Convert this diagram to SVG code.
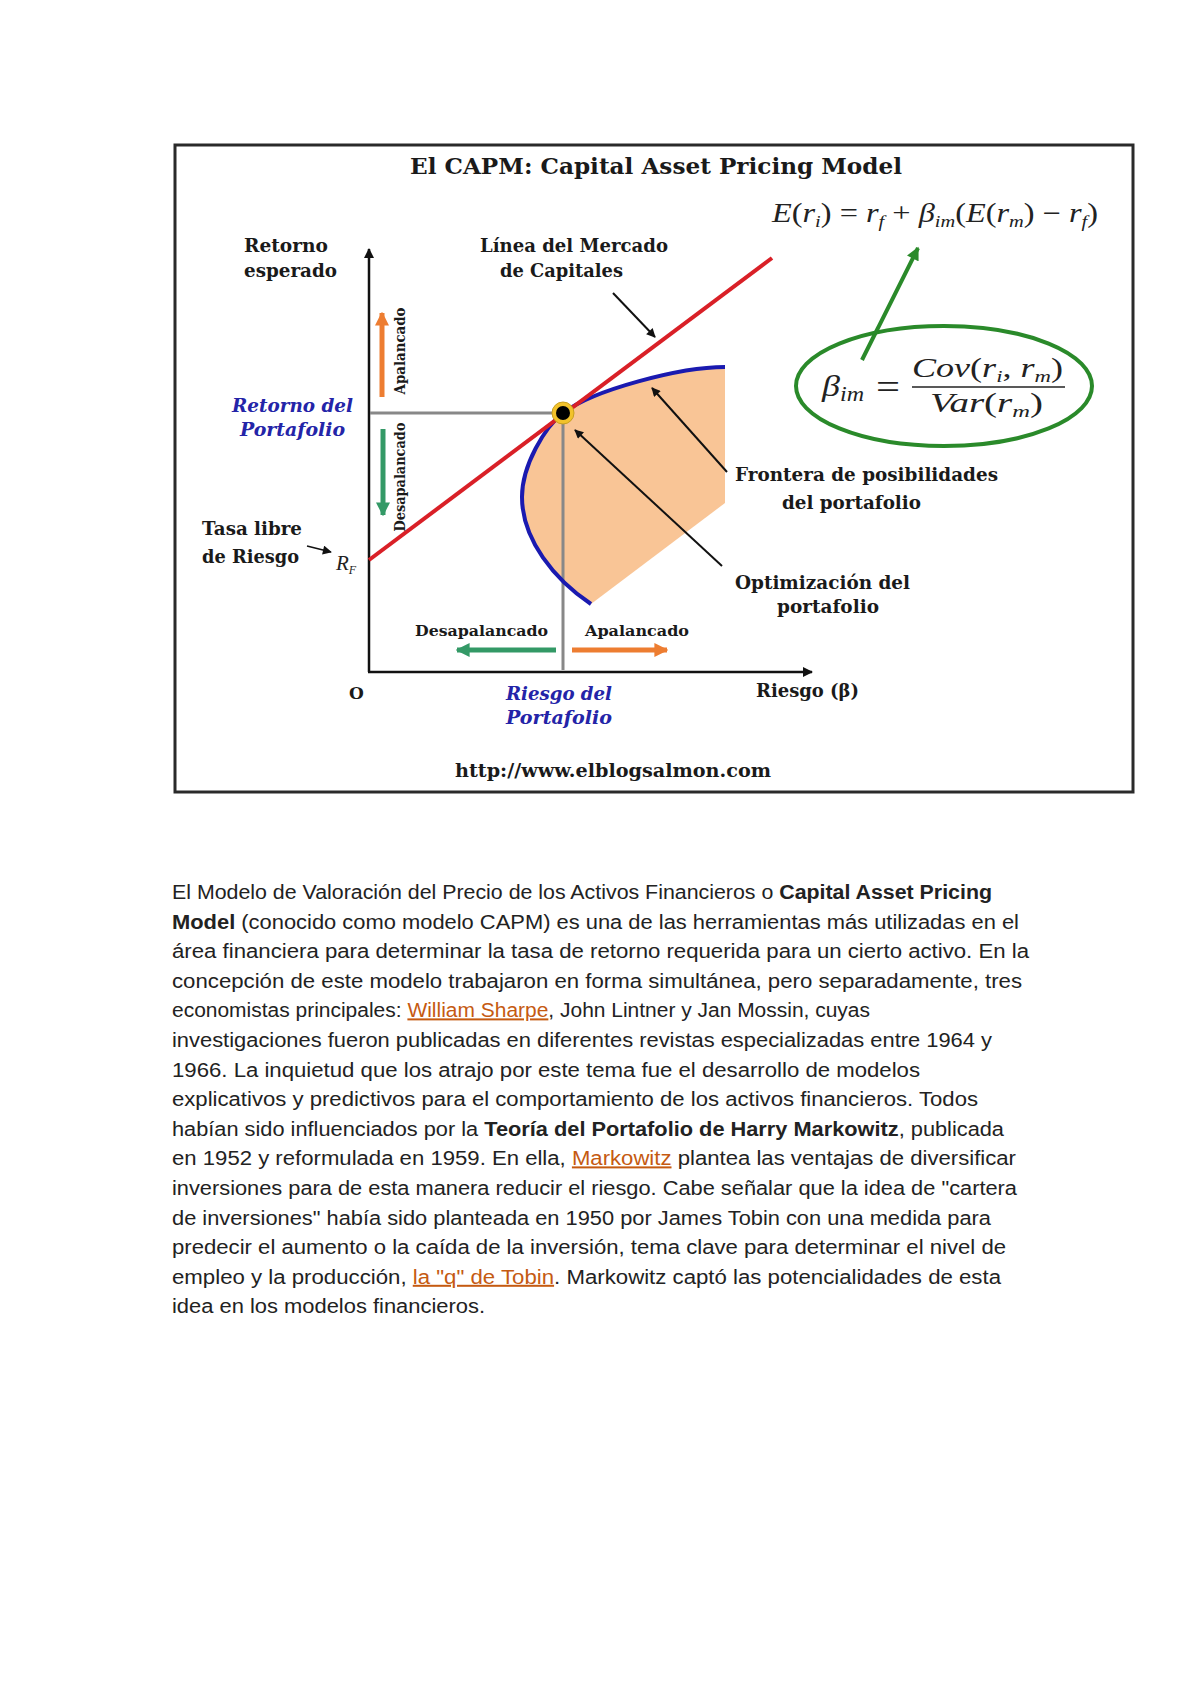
<svg xmlns="http://www.w3.org/2000/svg" width="1200" height="1698" viewBox="0 0 1200 1698">
<defs>
<style>
.lbl{font-family:"DejaVu Serif","Liberation Serif",serif;font-weight:bold;fill:#1a1a1a}
.blue{font-family:"DejaVu Serif","Liberation Serif",serif;font-weight:bold;font-style:italic;fill:#2424a8}
.math{font-family:"Liberation Serif","DejaVu Serif",serif;fill:#222}
.mi{font-style:italic}
.body{font-family:"Liberation Sans",Arial,sans-serif;font-size:20px;fill:#222}
.b{font-weight:bold}
.lnk{fill:#c55a11;text-decoration:underline}
.thin{stroke:#111;stroke-width:2;fill:none}
</style>
<marker id="ahk" viewBox="0 0 10 10" refX="9" refY="5" markerWidth="10" markerHeight="9" markerUnits="userSpaceOnUse" orient="auto"><path d="M0,0 L10,5 L0,10 z" fill="#111"/></marker>
<marker id="ahax" viewBox="0 0 10 10" refX="9" refY="5" markerWidth="11" markerHeight="10" markerUnits="userSpaceOnUse" orient="auto"><path d="M0,0 L10,5 L0,10 z" fill="#111"/></marker>
<marker id="aho" viewBox="0 0 10 10" refX="9" refY="5" markerWidth="14" markerHeight="14" markerUnits="userSpaceOnUse" orient="auto"><path d="M0,0 L10,5 L0,10 z" fill="#ed7d31"/></marker>
<marker id="aht" viewBox="0 0 10 10" refX="9" refY="5" markerWidth="14" markerHeight="14" markerUnits="userSpaceOnUse" orient="auto"><path d="M0,0 L10,5 L0,10 z" fill="#339966"/></marker>
<marker id="ahg" viewBox="0 0 10 10" refX="9" refY="5" markerWidth="14" markerHeight="13" markerUnits="userSpaceOnUse" orient="auto"><path d="M0,0 L10,5 L0,10 z" fill="#2a8a2a"/></marker>
</defs>
<rect width="1200" height="1698" fill="#ffffff"/>

<g id="frame"><rect x="175" y="145" width="958" height="647" fill="#fff" stroke="#2a2a2a" stroke-width="3"/></g>

<g id="title"><text class="lbl" x="410" y="174" font-size="23" textLength="492" lengthAdjust="spacingAndGlyphs">El CAPM: Capital Asset Pricing Model</text></g>

<g id="region">
<path d="M725,367 C680,367 593,390 563,413 C545,427 522,465 522,497 C522,540 555,580 591,604 L725,503 Z" fill="#f9c596"/>
</g>

<g id="connectors">
<line x1="369" y1="672" x2="369" y2="249" stroke="#111" stroke-width="2.5" marker-end="url(#ahax)"/>
<line x1="368" y1="672" x2="812" y2="672" stroke="#111" stroke-width="2.5" marker-end="url(#ahax)"/>
<line x1="370" y1="413" x2="563" y2="413" stroke="#888" stroke-width="3"/>
<line x1="563" y1="413" x2="563" y2="670" stroke="#888" stroke-width="3"/>
<path d="M725,367 C680,367 593,390 563,413 C545,427 522,465 522,497 C522,540 555,580 591,604" fill="none" stroke="#1a1ab0" stroke-width="4"/>
<line x1="369" y1="560" x2="772" y2="258" stroke="#d92027" stroke-width="4"/>
<line x1="382" y1="397" x2="382" y2="313" stroke="#ed7d31" stroke-width="5" marker-end="url(#aho)"/>
<line x1="383" y1="429" x2="383" y2="515" stroke="#339966" stroke-width="5" marker-end="url(#aht)"/>
<line x1="556" y1="650" x2="457" y2="650" stroke="#339966" stroke-width="5" marker-end="url(#aht)"/>
<line x1="572" y1="650" x2="667" y2="650" stroke="#ed7d31" stroke-width="5" marker-end="url(#aho)"/>
<line class="thin" x1="613" y1="293" x2="655" y2="337" marker-end="url(#ahk)"/>
<line class="thin" x1="727" y1="472" x2="652" y2="388" marker-end="url(#ahk)"/>
<line class="thin" x1="722" y1="566" x2="575" y2="430" marker-end="url(#ahk)"/>
<line x1="307" y1="546" x2="331" y2="552" stroke="#111" stroke-width="1.5" marker-end="url(#ahk)"/>
<line x1="862" y1="360" x2="918" y2="248" stroke="#2a8a2a" stroke-width="4" marker-end="url(#ahg)"/>
</g>

<g id="optimal-point">
<circle cx="563" cy="413" r="11" fill="#f2c22a" stroke="#c9a020" stroke-width="1"/>
<circle cx="563" cy="413" r="7" fill="#000"/>
</g>

<g id="label-y-axis">
<text class="lbl" x="244" y="252" font-size="18" textLength="84" lengthAdjust="spacingAndGlyphs">Retorno</text>
<text class="lbl" x="244" y="277" font-size="18" textLength="93" lengthAdjust="spacingAndGlyphs">esperado</text>
</g>
<g id="label-cml">
<text class="lbl" x="480" y="252" font-size="18" textLength="188" lengthAdjust="spacingAndGlyphs">Línea del Mercado</text>
<text class="lbl" x="500" y="277" font-size="18" textLength="123" lengthAdjust="spacingAndGlyphs">de Capitales</text>
</g>
<g id="label-retorno-portafolio">
<text class="blue" x="232" y="412" font-size="18" textLength="121" lengthAdjust="spacingAndGlyphs">Retorno del</text>
<text class="blue" x="240" y="436" font-size="18" textLength="105" lengthAdjust="spacingAndGlyphs">Portafolio</text>
</g>
<g id="label-apalancado-v">
<text class="lbl" font-size="14" text-anchor="middle" transform="translate(405,351) rotate(-90)" textLength="87" lengthAdjust="spacingAndGlyphs">Apalancado</text>
</g>
<g id="label-desapalancado-v">
<text class="lbl" font-size="14" text-anchor="middle" transform="translate(405,477) rotate(-90)" textLength="109" lengthAdjust="spacingAndGlyphs">Desapalancado</text>
</g>
<g id="label-tasa">
<text class="lbl" x="202" y="535" font-size="18" textLength="100" lengthAdjust="spacingAndGlyphs">Tasa libre</text>
<text class="lbl" x="202" y="563" font-size="18" textLength="97" lengthAdjust="spacingAndGlyphs">de Riesgo</text>
</g>
<g id="label-rf">
<text class="math" x="336" y="570" font-size="21"><tspan class="mi">R</tspan><tspan class="mi" font-size="12" dy="4">F</tspan></text>
</g>
<g id="label-desapalancado-h">
<text class="lbl" x="415" y="636" font-size="15" textLength="133" lengthAdjust="spacingAndGlyphs">Desapalancado</text>
</g>
<g id="label-apalancado-h">
<text class="lbl" x="585" y="636" font-size="15" textLength="104" lengthAdjust="spacingAndGlyphs">Apalancado</text>
</g>
<g id="label-origin">
<text class="lbl" x="349" y="699" font-size="17">O</text>
</g>
<g id="label-riesgo-portafolio">
<text class="blue" x="506" y="700" font-size="18" textLength="106" lengthAdjust="spacingAndGlyphs">Riesgo del</text>
<text class="blue" x="506" y="724" font-size="18" textLength="106" lengthAdjust="spacingAndGlyphs">Portafolio</text>
</g>
<g id="label-x-axis">
<text class="lbl" x="756" y="697" font-size="18" textLength="103" lengthAdjust="spacingAndGlyphs">Riesgo (β)</text>
</g>
<g id="label-frontera">
<text class="lbl" x="735" y="481" font-size="18" textLength="263" lengthAdjust="spacingAndGlyphs">Frontera de posibilidades</text>
<text class="lbl" x="782" y="509" font-size="18" textLength="139" lengthAdjust="spacingAndGlyphs">del portafolio</text>
</g>
<g id="label-optimizacion">
<text class="lbl" x="735" y="589" font-size="18" textLength="175" lengthAdjust="spacingAndGlyphs">Optimización del</text>
<text class="lbl" x="777" y="613" font-size="18" textLength="102" lengthAdjust="spacingAndGlyphs">portafolio</text>
</g>
<g id="label-url">
<text class="lbl" x="455" y="777" font-size="18" textLength="316" lengthAdjust="spacingAndGlyphs">http://www.elblogsalmon.com</text>
</g>

<g id="formula-capm">
<text class="math" x="772" y="222" font-size="27" textLength="326" lengthAdjust="spacingAndGlyphs"><tspan class="mi">E</tspan>(<tspan class="mi">r</tspan><tspan class="mi" font-size="17" dy="5">i</tspan><tspan dy="-5">) = </tspan><tspan class="mi">r</tspan><tspan class="mi" font-size="17" dy="5">f</tspan><tspan dy="-5"> + </tspan><tspan class="mi">β</tspan><tspan class="mi" font-size="17" dy="5">im</tspan><tspan dy="-5">(</tspan><tspan class="mi">E</tspan>(<tspan class="mi">r</tspan><tspan class="mi" font-size="17" dy="5">m</tspan><tspan dy="-5">) − </tspan><tspan class="mi">r</tspan><tspan class="mi" font-size="17" dy="5">f</tspan><tspan dy="-5">)</tspan></text>
</g>

<g id="beta-ellipse">
<ellipse cx="944" cy="386" rx="148" ry="60" fill="none" stroke="#2a8a2a" stroke-width="4"/>
<text class="math" x="822" y="396" font-size="30" textLength="42" lengthAdjust="spacingAndGlyphs"><tspan class="mi">β</tspan><tspan class="mi" font-size="20" dy="5">im</tspan></text>
<text class="math" x="876" y="399" font-size="36" textLength="24" lengthAdjust="spacingAndGlyphs">=</text>
<text class="math" x="912" y="377" font-size="27" textLength="151" lengthAdjust="spacingAndGlyphs"><tspan class="mi">Cov</tspan>(<tspan class="mi">r</tspan><tspan class="mi" font-size="17" dy="5">i</tspan><tspan dy="-5">, </tspan><tspan class="mi">r</tspan><tspan class="mi" font-size="17" dy="5">m</tspan><tspan dy="-5">)</tspan></text>
<line x1="912" y1="387" x2="1065" y2="387" stroke="#222" stroke-width="1.5"/>
<text class="math" x="930" y="412" font-size="27" textLength="113" lengthAdjust="spacingAndGlyphs"><tspan class="mi">Var</tspan>(<tspan class="mi">r</tspan><tspan class="mi" font-size="17" dy="5">m</tspan><tspan dy="-5">)</tspan></text>
</g>

<g id="body-text" class="body">
<text x="172" y="899" textLength="820" lengthAdjust="spacingAndGlyphs">El Modelo de Valoración del Precio de los Activos Financieros o <tspan class="b">Capital Asset Pricing</tspan></text>
<text x="172" y="928.6" textLength="847" lengthAdjust="spacingAndGlyphs"><tspan class="b">Model</tspan> (conocido como modelo CAPM) es una de las herramientas más utilizadas en el</text>
<text x="172" y="958.2" textLength="857" lengthAdjust="spacingAndGlyphs">área financiera para determinar la tasa de retorno requerida para un cierto activo. En la</text>
<text x="172" y="987.8" textLength="850" lengthAdjust="spacingAndGlyphs">concepción de este modelo trabajaron en forma simultánea, pero separadamente, tres</text>
<text x="172" y="1017.4" textLength="698" lengthAdjust="spacingAndGlyphs">economistas principales: <tspan class="lnk">William Sharpe</tspan>, John Lintner y Jan Mossin, cuyas</text>
<text x="172" y="1047" textLength="820" lengthAdjust="spacingAndGlyphs">investigaciones fueron publicadas en diferentes revistas especializadas entre 1964 y</text>
<text x="172" y="1076.6" textLength="748" lengthAdjust="spacingAndGlyphs">1966. La inquietud que los atrajo por este tema fue el desarrollo de modelos</text>
<text x="172" y="1106.2" textLength="806" lengthAdjust="spacingAndGlyphs">explicativos y predictivos para el comportamiento de los activos financieros. Todos</text>
<text x="172" y="1135.8" textLength="832" lengthAdjust="spacingAndGlyphs">habían sido influenciados por la <tspan class="b">Teoría del Portafolio de Harry Markowitz</tspan>, publicada</text>
<text x="172" y="1165.4" textLength="844" lengthAdjust="spacingAndGlyphs">en 1952 y reformulada en 1959. En ella, <tspan class="lnk">Markowitz</tspan> plantea las ventajas de diversificar</text>
<text x="172" y="1195" textLength="845" lengthAdjust="spacingAndGlyphs">inversiones para de esta manera reducir el riesgo. Cabe señalar que la idea de "cartera</text>
<text x="172" y="1224.6" textLength="819" lengthAdjust="spacingAndGlyphs">de inversiones" había sido planteada en 1950 por James Tobin con una medida para</text>
<text x="172" y="1254.2" textLength="834" lengthAdjust="spacingAndGlyphs">predecir el aumento o la caída de la inversión, tema clave para determinar el nivel de</text>
<text x="172" y="1283.8" textLength="829" lengthAdjust="spacingAndGlyphs">empleo y la producción, <tspan class="lnk">la "q" de Tobin</tspan>. Markowitz captó las potencialidades de esta</text>
<text x="172" y="1313.4" textLength="313" lengthAdjust="spacingAndGlyphs">idea en los modelos financieros.</text>
</g>
</svg>
